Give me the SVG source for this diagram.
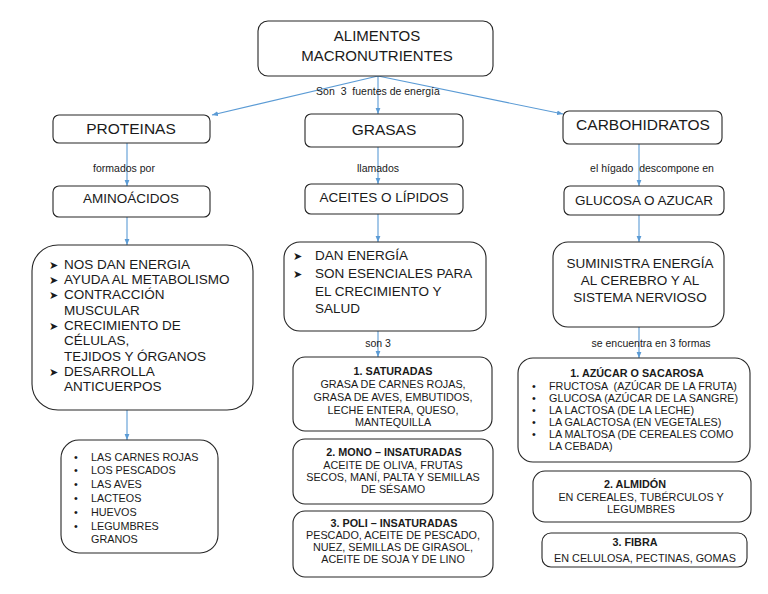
<svg xmlns="http://www.w3.org/2000/svg" width="768" height="594" viewBox="0 0 768 594">
<defs>
<marker id="ah" viewBox="0 0 10 10" refX="10" refY="5" markerWidth="6" markerHeight="6" orient="auto" markerUnits="userSpaceOnUse"><path d="M0,1 L10,5 L0,9 z" fill="#5b9bd5"/></marker>
<style>
.box{fill:#fff;stroke:#262626;stroke-width:1.1}
.conn{stroke:#5b9bd5;stroke-width:1.1;fill:none;marker-end:url(#ah)}
text{font-family:"Liberation Sans",Arial,sans-serif;fill:#1a1a1a}
.t1{font-size:15px}
.t2{font-size:15.5px}
.t3{font-size:13.5px}
.lbl{font-size:10.5px}
.sm{font-size:10.8px}
.b{font-weight:bold}
.c{text-anchor:middle}
.bul{font-family:"DejaVu Sans",sans-serif;font-size:11px}
</style>
</defs>
<rect width="768" height="594" fill="#fff"/>
<g id="connectors">
<path class="conn" d="M378,76 L212,115"/>
<path class="conn" d="M378,76 L378,114"/>
<path class="conn" d="M378,76 L563,114"/>
<path class="conn" d="M127,143 L127,186"/>
<path class="conn" d="M378,147 L378,184"/>
<path class="conn" d="M639,144 L639,186"/>
<path class="conn" d="M127,217 L127,245"/>
<path class="conn" d="M378,214 L378,242"/>
<path class="conn" d="M639,215 L639,242"/>
<path class="conn" d="M127,410 L127,440"/>
<path class="conn" d="M378,331 L378,357"/>
<path class="conn" d="M639,327 L639,358"/>
</g>
<g id="labels">
<text class="lbl c" x="378" y="94.7" xml:space="preserve">Son  3  fuentes de energía</text>
<text class="lbl c" x="124" y="171.7">formados por</text>
<text class="lbl c" x="378" y="171.7">llamados</text>
<text class="lbl c" x="652" y="171.7" xml:space="preserve">el hígado  descompone en</text>
<text class="lbl c" x="378" y="346.7">son 3</text>
<text class="lbl c" x="651" y="346.7">se encuentra en 3 formas</text>
</g>
<g id="alimentos">
<rect class="box" x="258" y="21" width="235" height="55" rx="10"/>
<text class="t1 c" x="377" y="41.3">ALIMENTOS</text>
<text class="t1 c" x="377" y="61.3">MACRONUTRIENTES</text>
</g>
<g id="proteinas">
<rect class="box" x="53" y="115" width="157" height="28" rx="6"/>
<text class="t2 c" x="131" y="134.4">PROTEINAS</text>
</g>
<g id="grasas">
<rect class="box" x="305" y="114" width="158" height="33" rx="6"/>
<text class="t2 c" x="384" y="135.4">GRASAS</text>
</g>
<g id="carbohidratos">
<rect class="box" x="563" y="111" width="159" height="33" rx="6"/>
<text class="t2 c" x="643" y="130.4">CARBOHIDRATOS</text>
</g>
<g id="aminoacidos">
<rect class="box" x="53" y="186" width="157" height="31" rx="6"/>
<text class="t3 c" x="131" y="203">AMINOÁCIDOS</text>
</g>
<g id="aceites">
<rect class="box" x="305" y="184" width="158" height="30" rx="6"/>
<text class="t3 c" x="384" y="201.7">ACEITES O LÍPIDOS</text>
</g>
<g id="glucosa">
<rect class="box" x="564" y="186" width="160" height="29" rx="6"/>
<text class="t3 c" x="644" y="204.7">GLUCOSA O AZUCAR</text>
</g>
<g id="funciones-proteinas">
<rect class="box" x="32" y="245" width="221" height="165" rx="26"/>
<text class="t3"><tspan class="bul" x="49" y="268.7">➤</tspan><tspan x="64" y="268.7">NOS DAN ENERGIA</tspan></text>
<text class="t3"><tspan class="bul" x="49" y="284">➤</tspan><tspan x="64" y="284">AYUDA AL METABOLISMO</tspan></text>
<text class="t3"><tspan class="bul" x="49" y="299.2">➤</tspan><tspan x="64" y="299.2">CONTRACCIÓN</tspan></text>
<text class="t3" x="64" y="314.7">MUSCULAR</text>
<text class="t3"><tspan class="bul" x="49" y="330.2">➤</tspan><tspan x="64" y="330.2">CRECIMIENTO DE</tspan></text>
<text class="t3" x="64" y="345.2">CÉLULAS,</text>
<text class="t3" x="64" y="360.7">TEJIDOS Y ÓRGANOS</text>
<text class="t3"><tspan class="bul" x="49" y="375.7">➤</tspan><tspan x="64" y="375.7">DESARROLLA</tspan></text>
<text class="t3" x="64" y="390.7">ANTICUERPOS</text>
</g>
<g id="alimentos-proteinas">
<rect class="box" x="61" y="440" width="157" height="113" rx="18"/>
<text class="sm" x="74" y="460.8">•</text><text class="sm" x="91" y="460.8">LAS CARNES ROJAS</text>
<text class="sm" x="74" y="473.8">•</text><text class="sm" x="91" y="473.8">LOS PESCADOS</text>
<text class="sm" x="74" y="487.8">•</text><text class="sm" x="91" y="487.8">LAS AVES</text>
<text class="sm" x="74" y="501.8">•</text><text class="sm" x="91" y="501.8">LACTEOS</text>
<text class="sm" x="74" y="515.8">•</text><text class="sm" x="91" y="515.8">HUEVOS</text>
<text class="sm" x="74" y="529.8">•</text><text class="sm" x="91" y="529.8">LEGUMBRES</text>
<text class="sm" x="91" y="542.8">GRANOS</text>
</g>
<g id="funciones-grasas">
<rect class="box" x="284" y="242" width="202" height="89" rx="16"/>
<text class="t3"><tspan class="bul" x="293" y="259.7">➤</tspan><tspan x="315" y="259.7">DAN ENERGÍA</tspan></text>
<text class="t3"><tspan class="bul" x="293" y="277.7">➤</tspan><tspan x="315" y="277.7">SON ESENCIALES PARA</tspan></text>
<text class="t3" x="315" y="295.7">EL CRECIMIENTO Y</text>
<text class="t3" x="315" y="312.7">SALUD</text>
</g>
<g id="saturadas">
<rect class="box" x="293" y="357" width="199" height="74" rx="12"/>
<text class="sm c b" x="393" y="374.8">1. SATURADAS</text>
<text class="sm c" x="393" y="387.8">GRASA DE CARNES ROJAS,</text>
<text class="sm c" x="393" y="400.8">GRASA DE AVES, EMBUTIDOS,</text>
<text class="sm c" x="393" y="413.8">LECHE ENTERA, QUESO,</text>
<text class="sm c" x="393" y="425.8">MANTEQUILLA</text>
</g>
<g id="mono">
<rect class="box" x="293" y="439" width="200" height="65" rx="12"/>
<text class="sm c b" x="394" y="455.8">2. MONO – INSATURADAS</text>
<text class="sm c" x="393" y="468.8">ACEITE DE OLIVA, FRUTAS</text>
<text class="sm c" x="393" y="480.8">SECOS, MANÍ, PALTA Y SEMILLAS</text>
<text class="sm c" x="393" y="492.8">DE SÉSAMO</text>
</g>
<g id="poli">
<rect class="box" x="293" y="511" width="200" height="66" rx="12"/>
<text class="sm c b" x="394" y="526.8">3. POLI – INSATURADAS</text>
<text class="sm c" x="393" y="538.8">PESCADO, ACEITE DE PESCADO,</text>
<text class="sm c" x="393" y="550.8">NUEZ, SEMILLAS DE GIRASOL,</text>
<text class="sm c" x="393" y="562.8">ACEITE DE SOJA Y DE LINO</text>
</g>
<g id="suministra">
<rect class="box" x="553" y="242" width="171" height="85" rx="15"/>
<text class="t3 c" x="640" y="267.7">SUMINISTRA ENERGÍA</text>
<text class="t3 c" x="640" y="285.2">AL CEREBRO Y AL</text>
<text class="t3 c" x="640" y="302.2">SISTEMA NERVIOSO</text>
</g>
<g id="azucar">
<rect class="box" x="518" y="358" width="232" height="104" rx="15"/>
<text class="sm c b" x="637" y="376.8">1. AZÚCAR O SACAROSA</text>
<text class="sm" x="532" y="389.8">•</text><text class="sm" x="549" y="389.8" xml:space="preserve">FRUCTOSA  (AZÚCAR DE LA FRUTA)</text>
<text class="sm" x="532" y="401.8">•</text><text class="sm" x="549" y="401.8">GLUCOSA (AZÚCAR DE LA SANGRE)</text>
<text class="sm" x="532" y="413.8">•</text><text class="sm" x="549" y="413.8">LA LACTOSA (DE LA LECHE)</text>
<text class="sm" x="532" y="425.8">•</text><text class="sm" x="549" y="425.8">LA GALACTOSA (EN VEGETALES)</text>
<text class="sm" x="532" y="437.8">•</text><text class="sm" x="549" y="437.8">LA MALTOSA (DE CEREALES COMO</text>
<text class="sm" x="549" y="449.8">LA CEBADA)</text>
</g>
<g id="almidon">
<rect class="box" x="533" y="471" width="218" height="51" rx="12"/>
<text class="sm c b" x="635" y="487.8">2. ALMIDÓN</text>
<text class="sm c" x="641" y="500.8">EN CEREALES, TUBÉRCULOS Y</text>
<text class="sm c" x="641" y="512.8">LEGUMBRES</text>
</g>
<g id="fibra">
<rect class="box" x="542" y="533" width="205" height="34" rx="9"/>
<text class="sm c b" x="635" y="545.8">3. FIBRA</text>
<text class="sm c" x="645" y="561.8">EN CELULOSA, PECTINAS, GOMAS</text>
</g>
</svg>
